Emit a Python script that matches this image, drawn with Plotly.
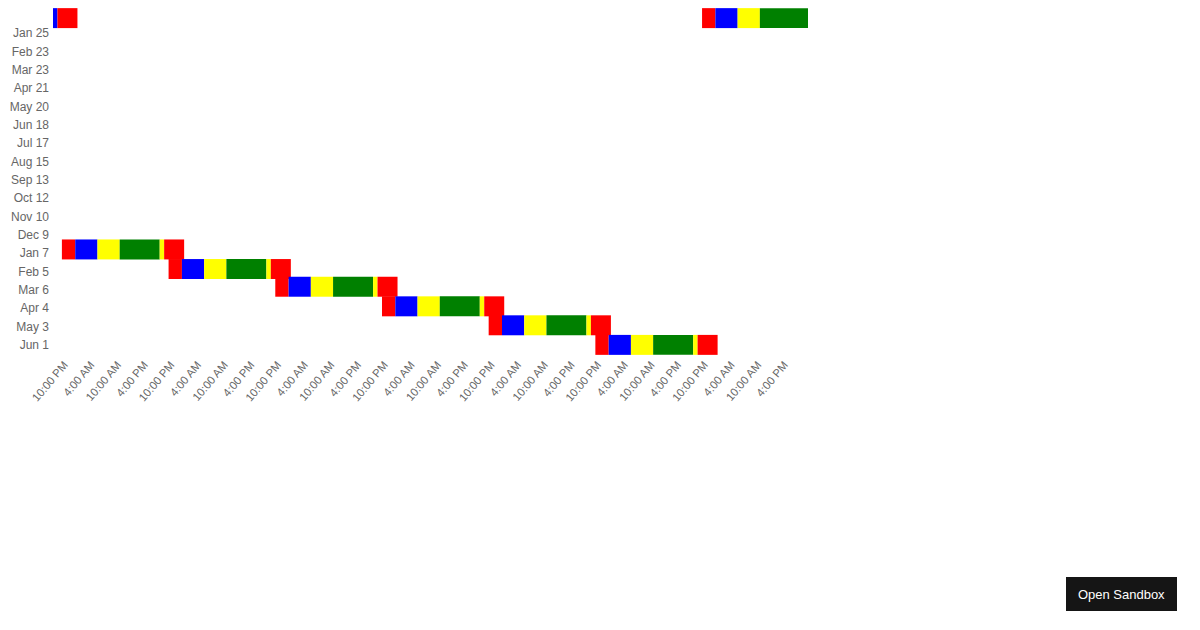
import pandas as pd
import plotly.graph_objects as go

# one row per month, each row is a sequence of coloured phases over ~27 hours
row_dates = ["2025-01-01", "2025-02-01", "2025-03-01", "2025-04-01", "2025-05-01", "2025-06-01"]
phase_colors = ["red", "blue", "yellow", "green", "yellow", "red"]

jan_times = ["2025-01-05 21:30", "2025-01-06 00:30", "2025-01-06 05:30", "2025-01-06 10:30",
             "2025-01-06 19:30", "2025-01-06 20:30", "2025-01-07 01:00"]
feb_times = ["2025-01-06 21:30", "2025-01-07 00:30", "2025-01-07 05:30", "2025-01-07 10:30",
             "2025-01-07 19:30", "2025-01-07 20:30", "2025-01-08 01:00"]
mar_times = ["2025-01-07 21:30", "2025-01-08 00:30", "2025-01-08 05:30", "2025-01-08 10:30",
             "2025-01-08 19:30", "2025-01-08 20:30", "2025-01-09 01:00"]
apr_times = ["2025-01-08 21:30", "2025-01-09 00:30", "2025-01-09 05:30", "2025-01-09 10:30",
             "2025-01-09 19:30", "2025-01-09 20:30", "2025-01-10 01:00"]
may_times = ["2025-01-09 21:30", "2025-01-10 00:30", "2025-01-10 05:30", "2025-01-10 10:30",
             "2025-01-10 19:30", "2025-01-10 20:30", "2025-01-11 01:00"]
jun_times = ["2025-01-10 21:30", "2025-01-11 00:30", "2025-01-11 05:30", "2025-01-11 10:30",
             "2025-01-11 19:30", "2025-01-11 20:30", "2025-01-12 01:00"]

# the odd row from the year before
top_row_date = "2024-01-01"
top_starts = ["2025-01-05 19:30", "2025-01-05 20:30", "2025-01-11 21:30",
              "2025-01-12 00:30", "2025-01-12 05:30", "2025-01-12 10:30"]
top_ends = ["2025-01-05 20:30", "2025-01-06 01:00", "2025-01-12 00:30",
            "2025-01-12 05:30", "2025-01-12 10:30", "2025-01-12 21:20"]
top_colors = ["blue", "red", "red", "blue", "yellow", "green"]

y_ticks = ["2024-01-25", "2024-02-23", "2024-03-23", "2024-04-21", "2024-05-20", "2024-06-18",
           "2024-07-17", "2024-08-15", "2024-09-13", "2024-10-12", "2024-11-10", "2024-12-09",
           "2025-01-07", "2025-02-05", "2025-03-06", "2025-04-04", "2025-05-03", "2025-06-01"]

# flatten into segments
seg_y, seg_start, seg_end, seg_color = [], [], [], []
seg_y += [top_row_date] * len(top_starts)
seg_start += top_starts
seg_end += top_ends
seg_color += top_colors
for d, times in zip(row_dates, [jan_times, feb_times, mar_times, apr_times, may_times, jun_times]):
    for i, c in enumerate(phase_colors):
        seg_y.append(d)
        seg_start.append(times[i])
        seg_end.append(times[i + 1])
        seg_color.append(c)

dur_ms = (pd.to_datetime(seg_end) - pd.to_datetime(seg_start)).total_seconds() * 1000

font = dict(family="Liberation Sans, Arial, Helvetica, sans-serif", size=12, color="#666")

fig = go.Figure(go.Bar(
    orientation="h",
    y=seg_y,
    x=list(dur_ms),
    base=seg_start,
    marker=dict(color=seg_color, line=dict(width=0)),
    width=31.6 * 86400000,
    hoverinfo="skip",
))

# page has an 8px body margin, so the figure is 16px smaller than the window
fig.update_layout(
    width=1184, height=614,
    margin=dict(l=45, r=384, t=0, b=267),
    paper_bgcolor="white", plot_bgcolor="white",
    showlegend=False,
    font=font,
    xaxis=dict(
        type="date",
        range=["2025-01-05 19:30", "2025-01-12 21:20"],
        tick0="2025-01-05 22:00", dtick=6 * 3600000,
        tickformat="%-I:%M %p", tickangle=-50,
        tickfont=dict(size=11.3),
        showgrid=False, zeroline=False, showline=False, ticks="",
    ),
    yaxis=dict(
        type="date",
        range=["2025-06-17", "2023-12-16"],
        tickmode="array", tickvals=y_ticks,
        tickformat="%b %-d", ticklabelstandoff=3,
        showgrid=False, zeroline=False, showline=False, ticks="",
    ),
    annotations=[dict(
        text="Open Sandbox", xref="paper", yref="paper",
        x=1.415, y=-0.69, xanchor="center", yanchor="middle",
        showarrow=False, bgcolor="#151515", bordercolor="#151515",
        width=101, height=24, borderpad=4,
        font=dict(family="Liberation Sans, Arial, sans-serif", size=13, color="white"),
    )],
)

fig.write_html("out.html")
